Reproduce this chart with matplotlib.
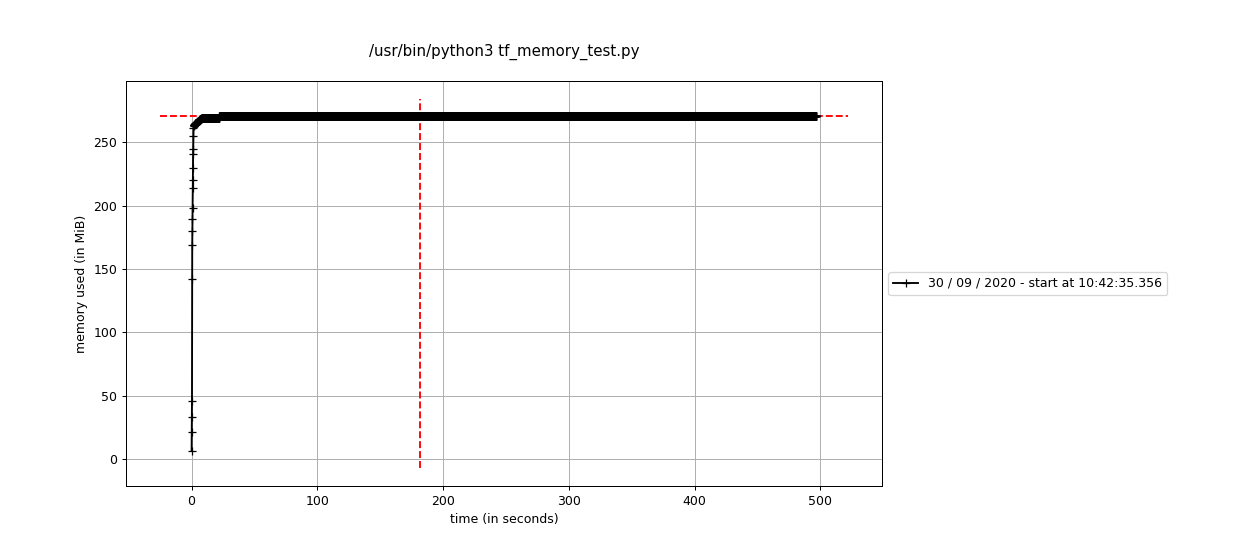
import numpy as np
import matplotlib
matplotlib.use("Agg")
import matplotlib.pyplot as plt

title = "/usr/bin/python3 tf_memory_test.py"
label = "30 / 09 / 2020 - start at 10:42:35.356"

# memory samples (MiB), taken every 0.1 s by the profiler
startup_mem = [6.3, 21.0, 33.0, 46.0, 142.0, 168.5, 180.0, 189.0, 198.0,
               213.5, 220.5, 230.0, 240.5, 244.5, 255.0, 261.0, 263.0, 263.5]
ramp_mem = ([264.0] * 6 + [264.5] * 6 + [265.0] * 6 + [265.5] * 6 + [266.0] * 6 +
            [266.5] * 6 + [267.0] * 6 + [267.5] * 6 + [268.0] * 6 + [268.5] * 6 +
            [269.0] * 6)
plateau1_mem = [269.5] * 136
plateau2_mem = [270.4] * 1598
peak_mem = [270.6]
plateau3_mem = [270.5] * 3151
sample_interval = 0.1

mem = np.array(startup_mem + ramp_mem + plateau1_mem + plateau2_mem + peak_mem + plateau3_mem)
t = np.arange(len(mem)) * sample_interval

fig = plt.figure(figsize=(14, 6), dpi=90)
ax = fig.add_axes([0.1, 0.1, 0.6, 0.75])

ax.plot(t, mem, "+-", color="k", label=label)

# mark the max memory like mprof does
max_mem = mem.max()
max_ind = mem.argmax()
bottom, top = ax.get_ylim()
left, right = ax.get_xlim()
ax.hlines(max_mem, left, right, colors="r", linestyles="--", zorder=1)
ax.vlines(t[max_ind], bottom, top, colors="r", linestyles="--", zorder=1)
ax.autoscale()

ax.set_xlabel("time (in seconds)")
ax.set_ylabel("memory used (in MiB)")
ax.set_title(title, pad=20)
ax.grid(True)
ax.set_axisbelow(True)
ax.legend(loc="center left", bbox_to_anchor=(1, 0.5))

fig.savefig("out.png", dpi=90)
